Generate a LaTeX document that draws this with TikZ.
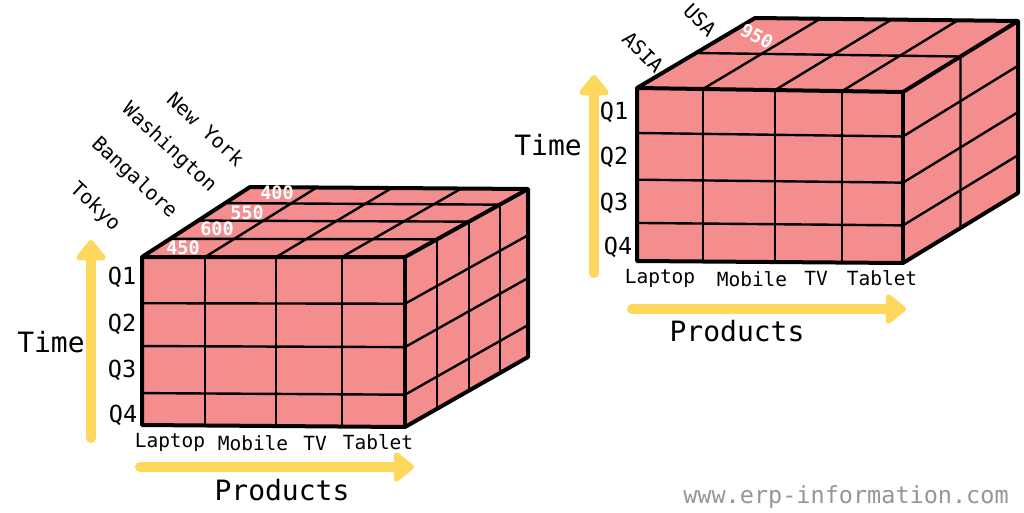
\documentclass[tikz,border=0pt]{standalone}
\usepackage{fontspec}
\setmainfont{DejaVu Sans Mono}
\usepackage{tikz}
\usetikzlibrary{calc, arrows.meta}
\definecolor{cubepink}{RGB}{244,141,141}
\definecolor{axyellow}{RGB}{253,216,92}
\definecolor{markgray}{RGB}{150,150,150}
\tikzset{gridln/.style={draw=black, line width=2.4pt}}
\tikzset{rim/.style={draw=black, line width=4pt, line join=round}}
\tikzset{axarr/.style={draw=axyellow, line width=10pt, line cap=round, -{Triangle[width=34pt,length=22pt,round]}}}
\tikzset{axlbl/.style={font=\fontsize{28}{30}\selectfont, inner sep=0pt}}
\tikzset{qlbl/.style={font=\fontsize{23.5}{26}\selectfont, inner sep=0pt}}
\tikzset{prodlbl/.style={font=\fontsize{19.5}{22}\selectfont, inner sep=0pt}}
\tikzset{citylbl/.style={font=\fontsize{20}{22}\selectfont, inner sep=0pt, rotate=-43}}
\tikzset{vallbl/.style={font=\bfseries\fontsize{18.5}{20}\selectfont, text=white, inner sep=0pt}}

\begin{document}
\begin{tikzpicture}[x=1pt, y=-1pt]
    \fill[white] (0,0) rectangle (1024,512);
    \useasboundingbox (0,0) rectangle (1024,512);

    % left cube: Time x Products x City
    \coordinate (LFTL) at (142,257);
    \coordinate (LFTR) at (405,257);
    \coordinate (LFBL) at (142,425);
    \coordinate (LFBR) at (405,427);
    \coordinate (LBTL) at (250,187);
    \coordinate (LBTR) at (528,189);
    \coordinate (LBBR) at (528,357);
    \fill[cubepink] (LFBL) -- (LFTL) -- (LBTL) -- (LBTR) -- (LBBR) -- (LFBR) -- cycle;
    \foreach \s in {.24,.51,.76} {
        \draw[gridln] ($(LFTL)!\s!(LFTR)$) -- ($(LFBL)!\s!(LFBR)$);
        \draw[gridln] ($(LFTL)!\s!(LFTR)$) -- ($(LBTL)!\s!(LBTR)$);
    }
    \foreach \t in {.275,.53,.81}
        \draw[gridln] ($(LFTL)!\t!(LFBL)$) -- ($(LFTR)!\t!(LFBR)$) -- ($(LBTR)!\t!(LBBR)$);
    \foreach \t in {.26,.52,.77} {
        \draw[gridln] ($(LFTL)!\t!(LBTL)$) -- ($(LFTR)!\t!(LBTR)$);
        \draw[gridln] ($(LFTR)!\t!(LBTR)$) -- ($(LFBR)!\t!(LBBR)$);
    }
    \draw[rim] (LFBL) -- (LFTL) -- (LBTL) -- (LBTR) -- (LBBR) -- (LFBR) -- cycle;
    \draw[rim] (LFTL) -- (LFTR) -- (LBTR);
    \draw[rim] (LFTR) -- (LFBR);

    % right cube: Time x Products x Region
    \coordinate (RFTL) at (637,88);
    \coordinate (RFTR) at (903,92);
    \coordinate (RFBL) at (637,261);
    \coordinate (RFBR) at (903,263);
    \coordinate (RBTL) at (755,18);
    \coordinate (RBTR) at (1018,21);
    \coordinate (RBBR) at (1018,193);
    \fill[cubepink] (RFBL) -- (RFTL) -- (RBTL) -- (RBTR) -- (RBBR) -- (RFBR) -- cycle;
    \foreach \s in {.248,.519,.771} {
        \draw[gridln] ($(RFTL)!\s!(RFTR)$) -- ($(RFBL)!\s!(RFBR)$);
        \draw[gridln] ($(RFTL)!\s!(RFTR)$) -- ($(RBTL)!\s!(RBTR)$);
    }
    \foreach \t in {.26,.53,.78}
        \draw[gridln] ($(RFTL)!\t!(RFBL)$) -- ($(RFTR)!\t!(RFBR)$) -- ($(RBTR)!\t!(RBBR)$);
    \draw[gridln] ($(RFTL)!.5!(RBTL)$) -- ($(RFTR)!.5!(RBTR)$) -- ($(RFBR)!.5!(RBBR)$);
    \draw[rim] (RFBL) -- (RFTL) -- (RBTL) -- (RBTR) -- (RBBR) -- (RFBR) -- cycle;
    \draw[rim] (RFTL) -- (RFTR) -- (RBTR);
    \draw[rim] (RFTR) -- (RFBR);

    % axes
    \coordinate (ltime0) at (91,438);
    \coordinate (ltime1) at (91,240);
    \coordinate (lprod0) at (140,467);
    \coordinate (lprod1) at (414,467);
    \coordinate (rtime0) at (594,273);
    \coordinate (rtime1) at (594,75);
    \coordinate (rprod0) at (632,309);
    \coordinate (rprod1) at (906,309);
    \draw[axarr] (ltime0) -- (ltime1);
    \draw[axarr] (lprod0) -- (lprod1);
    \draw[axarr] (rtime0) -- (rtime1);
    \draw[axarr] (rprod0) -- (rprod1);

    % left labels
    \node[axlbl] (lTime) at (51,342) {Time};
    \node[axlbl] (lProducts) at (282,490) {Products};
    \node[qlbl] (lQ1) at (122,277) {Q1};
    \node[qlbl] (lQ2) at (122,324) {Q2};
    \node[qlbl] (lQ3) at (122,370) {Q3};
    \node[qlbl] (lQ4) at (123,415) {Q4};
    \node[prodlbl] (lLaptop) at (170,442) {Laptop};
    \node[prodlbl] (lMobile) at (253,443) {Mobile};
    \node[prodlbl] (lTV) at (315,443) {TV};
    \node[prodlbl] (lTablet) at (378,442) {Tablet};
    \node[citylbl] (tokyo) at (95,207) {Tokyo};
    \node[citylbl] (bangalore) at (134,178) {Bangalore};
    \node[citylbl] (washington) at (169,148) {Washington};
    \node[citylbl] (newyork) at (206,129) {New York};
    \node[vallbl] (v450) at (183,248) {450};
    \node[vallbl] (v600) at (217,229) {600};
    \node[vallbl] (v550) at (247,213) {550};
    \node[vallbl] (v400) at (277,193) {400};

    % right labels
    \node[axlbl] (rTime) at (548,145) {Time};
    \node[axlbl] (rProducts) at (737,331) {Products};
    \node[qlbl] (rQ1) at (614,112) {Q1};
    \node[qlbl] (rQ2) at (614,157) {Q2};
    \node[qlbl] (rQ3) at (614,203) {Q3};
    \node[qlbl] (rQ4) at (618,247) {Q4};
    \node[prodlbl] (rLaptop) at (660,278) {Laptop};
    \node[prodlbl] (rMobile) at (752,279) {Mobile};
    \node[prodlbl] (rTV) at (816,278) {TV};
    \node[prodlbl] (rTablet) at (882,278) {Tablet};
    \node[citylbl, rotate=-2] (asia) at (643,52) {ASIA};
    \node[citylbl, rotate=-2] (usa) at (700,20) {USA};
    \node[vallbl, rotate=-28] (v950) at (757,36) {950};

    \node[font=\fontsize{23.5}{26}\selectfont, text=markgray, inner sep=0pt] (site) at (846,497) {www.erp-information.com};
\end{tikzpicture}
\end{document}
